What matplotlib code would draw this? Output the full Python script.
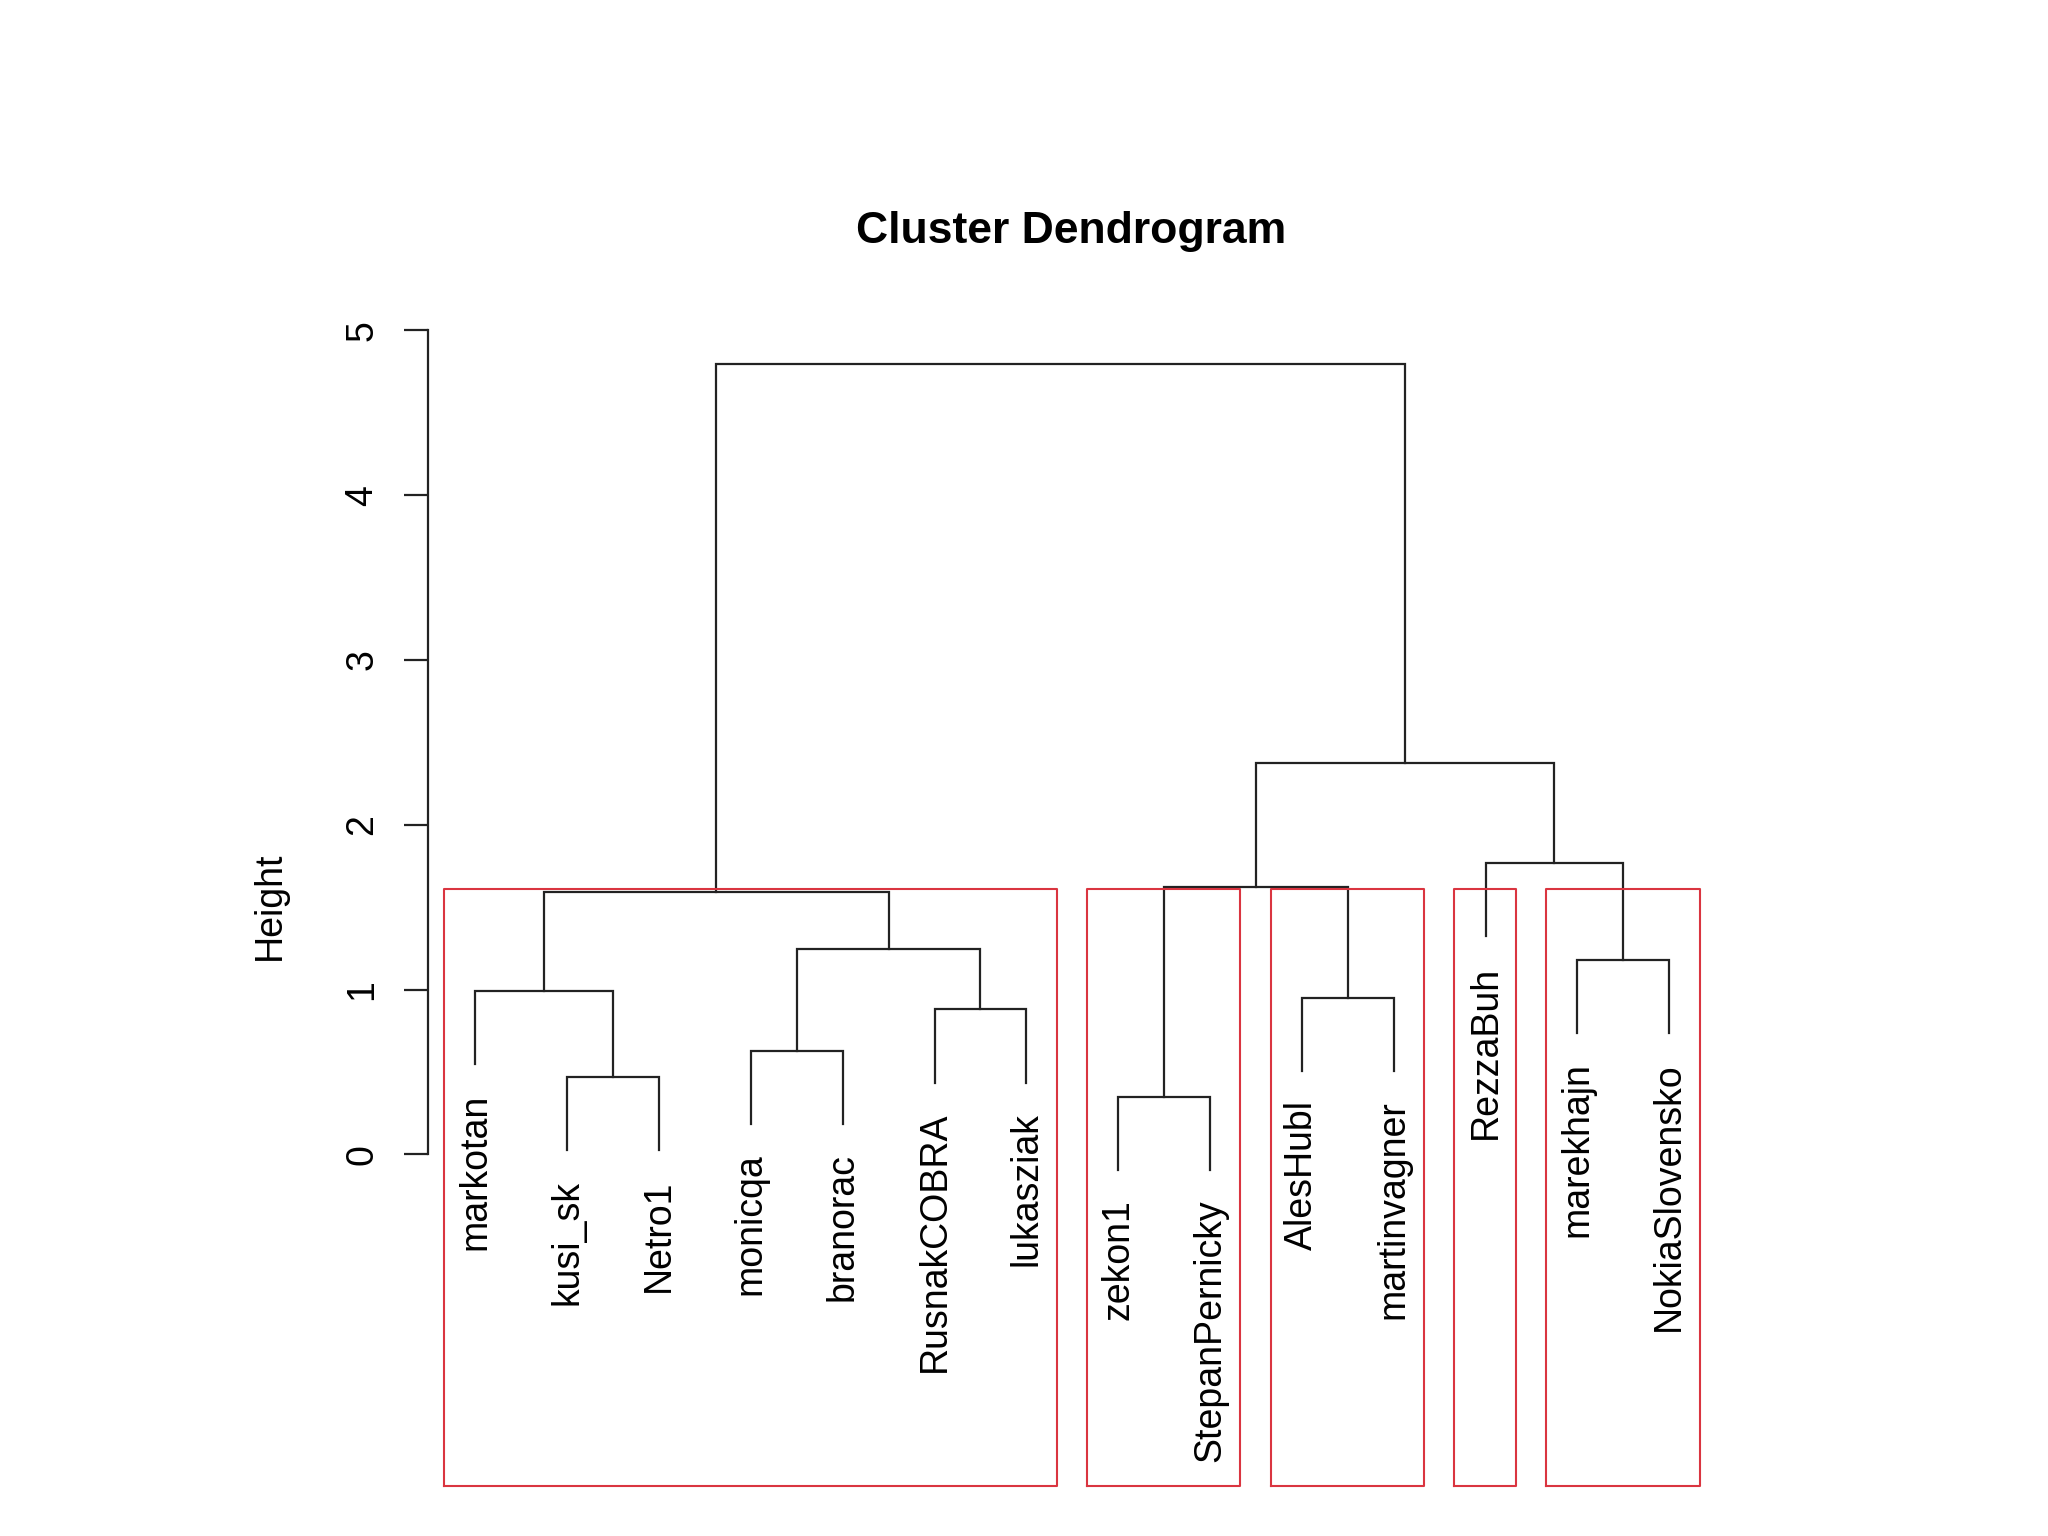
import matplotlib
matplotlib.use("Agg")
import matplotlib.pyplot as plt

plt.rcParams['font.family'] = ['Liberation Sans', 'DejaVu Sans']

# leaf order as drawn, left to right
leaves = ['markotan', 'kusi_sk', 'Netro1', 'monicqa', 'branorac', 'RusnakCOBRA',
          'lukasziak', 'zekon1', 'StepanPernicky', 'AlesHubl', 'martinvagner',
          'RezzaBuh', 'marekhajn', 'NokiaSlovensko']

# merges: children are leaf names or merge numbers (1-based), like R's merge matrix
merge_left = ['kusi_sk', 'zekon1', 'monicqa', 'RusnakCOBRA', 'AlesHubl', 'markotan',
              'marekhajn', 3, 6, 2, 'RezzaBuh', 10, 9]
merge_right = ['Netro1', 'StepanPernicky', 'branorac', 'lukasziak', 'martinvagner', 1,
               'NokiaSlovensko', 4, 8, 5, 7, 11, 12]
merge_height = [0.468, 0.349, 0.626, 0.880, 0.951, 0.990,
                1.181, 1.244, 1.593, 1.624, 1.767, 2.377, 4.794]

k_clusters = 5
y_ticks = [0, 1, 2, 3, 4, 5]

line_col = '#222222'
rect_col = '#DA3540'

fig = plt.figure(figsize=(20.48, 15.36), dpi=100)
ax = fig.add_axes([0.2088, 0.0326, 0.6296, 0.7630])

hang = 0.1 * (max(merge_height) - min(merge_height))
xpos = {name: i + 1 for i, name in enumerate(leaves)}


def node_x(c):
    if isinstance(c, str):
        return xpos[c]
    return merge_x[c - 1]


def node_y(c, parent_h):
    if isinstance(c, str):
        return parent_h - hang
    return merge_height[c - 1]


merge_x = []
for l, r, h in zip(merge_left, merge_right, merge_height):
    xl, xr = node_x(l), node_x(r)
    yl, yr = node_y(l, h), node_y(r, h)
    ax.plot([xl, xl, xr, xr], [yl, h, h, yr], color=line_col, lw=1.6,
            solid_joinstyle='miter')
    merge_x.append((xl + xr) / 2)
    for c, y in ((l, yl), (r, yr)):
        if isinstance(c, str):
            ax.annotate(c, xy=(xpos[c], y), xytext=(0, -21), textcoords='offset points',
                        rotation=90, ha='center', va='top', fontsize=27)

ax.set_xlim(0.48, 14.52)
ax.set_ylim(-2.0127, 5.1)

# cut the tree into k clusters like rect.hclust
hs = sorted(merge_height, reverse=True)
cut = (hs[k_clusters - 2] + hs[k_clusters - 1]) / 2


def leaves_of(c):
    if isinstance(c, str):
        return [c]
    return leaves_of(merge_left[c - 1]) + leaves_of(merge_right[c - 1])


def clusters(c):
    h = 0 if isinstance(c, str) else merge_height[c - 1]
    if h < cut:
        return [leaves_of(c)]
    return clusters(merge_left[c - 1]) + clusters(merge_right[c - 1])


groups = clusters(len(merge_height))
groups.sort(key=lambda g: min(xpos[n] for n in g))
ybot = ax.get_ylim()[0]
for g in groups:
    x0 = min(xpos[n] for n in g) - 0.34
    x1 = max(xpos[n] for n in g) + 0.33
    ax.plot([x0, x1, x1, x0, x0], [ybot, ybot, cut, cut, ybot], color=rect_col,
            lw=1.5, clip_on=False)

for s in ['top', 'right', 'bottom']:
    ax.spines[s].set_visible(False)
ax.spines['left'].set_bounds(0, 5)
ax.spines['left'].set_linewidth(1.6)
ax.spines['left'].set_color(line_col)
ax.set_xticks([])
ax.set_yticks(y_ticks)
ax.set_yticklabels([str(t) for t in y_ticks], rotation=90, va='center', fontsize=27)
ax.tick_params(axis='y', length=17, width=1.6, color=line_col, pad=17)
ax.patch.set_alpha(0)

fig.text(0.523, 1 - 232 / 1536, 'Cluster Dendrogram', ha='center', va='center',
         fontsize=32, fontweight='bold')
fig.text(270 / 2048, 1 - 906 / 1536, 'Height', rotation=90, ha='center', va='center',
         fontsize=27)

fig.savefig('out.png', dpi=100)
